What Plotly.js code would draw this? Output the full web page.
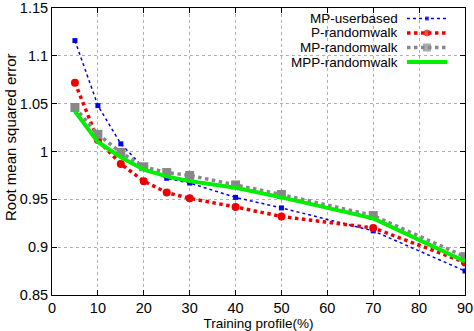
<!DOCTYPE html>
<html><head><meta charset="utf-8">
<script src="https://cdn.plot.ly/plotly-3.0.1.min.js"></script>
<style>html,body{margin:0;padding:0;background:#fff}#chart{width:474px;height:331px}</style>
</head><body><div id="chart"></div>
<script>
const xVals = [5, 10, 15, 20, 25, 30, 40, 50, 70, 90];
const names = ["MP-userbased", "P-randomwalk", "MP-randomwalk", "MPP-randomwalk"];
const mpUserbased   = [1.116, 1.048, 1.008, 0.983, 0.972, 0.967, 0.952, 0.941, 0.917, 0.875];
const pRandomwalk   = [1.072, 1.012, 0.987, 0.969, 0.957, 0.951, 0.942, 0.932, 0.920, 0.884];
const mpRandomwalk  = [1.046, 1.018, 0.999, 0.984, 0.978, 0.975, 0.965, 0.955, 0.933, 0.890];
const mppRandomwalk = [1.042, 1.010, 0.994, 0.981, 0.974, 0.969, 0.962, 0.952, 0.930, 0.885];
const xTicks = [0, 10, 20, 30, 40, 50, 60, 70, 80, 90];
const yTicks = [0.85, 0.9, 0.95, 1, 1.05, 1.1, 1.15];
const yTickText = ["0.85", "0.9", "0.95", "1", "1.05", "1.1", "1.15"];

const styles = [
  {color: "#0000ee", width: 1.5, dash: "dot", symbol: "square", size: 5},
  {color: "#ee0000", width: 3.5, dash: "dot", symbol: "circle", size: 8},
  {color: "#888888", width: 3.5, dash: "dot", symbol: "square", size: 9},
  {color: "#00ee00", width: 4, dash: "solid", symbol: "circle", size: 1}
];
const series = [mpUserbased, pRandomwalk, mpRandomwalk, mppRandomwalk];

const traces = series.map((ys, i) => ({
  x: xVals, y: ys, name: names[i], type: "scatter", mode: "lines+markers",
  line: {color: styles[i].color, width: styles[i].width, dash: styles[i].dash},
  marker: {color: styles[i].color, symbol: styles[i].symbol, size: styles[i].size},
  showlegend: false
}));

const FAM = "Liberation Sans, Arial, sans-serif";
const L = 52, R = 465, T = 8, B = 295;
const px = x => (x - L) / (R - L);
const py = y => (B - y) / (B - T);
const rows = [18.5, 33, 47.5, 62];
const annotations = [], shapes = [];
names.forEach((n, i) => {
  annotations.push({xref: "paper", yref: "paper", x: px(400), y: py(rows[i]), xanchor: "right", yanchor: "middle",
    text: n, showarrow: false, font: {family: FAM, size: 13.5, color: "#000"}});
  shapes.push({type: "line", xref: "paper", yref: "paper", x0: px(407), x1: px(447), y0: py(rows[i]), y1: py(rows[i]),
    line: {color: styles[i].color, width: styles[i].width, dash: styles[i].dash}});
});
annotations.push({xref: "paper", yref: "paper", x: px(10), y: py(137), xanchor: "center", yanchor: "middle",
  text: "Root mean squared error", textangle: -90, showarrow: false, font: {family: FAM, size: 15, color: "#000"}});

const legendMarkers = {
  x: [px(427), px(427), px(427)], y: [py(rows[0]), py(rows[1]), py(rows[2])],
  xaxis: "x2", yaxis: "y2", type: "scatter", mode: "markers", showlegend: false, hoverinfo: "skip",
  marker: {color: [styles[0].color, styles[1].color, styles[2].color], symbol: ["square", "circle", "square"], size: [5, 8, 9]}
};

const fnt = {family: FAM, size: 14.5, color: "#000"};
const layout = {
  width: 474, height: 331,
  margin: {l: 52, r: 9, t: 8, b: 36, pad: 0},
  paper_bgcolor: "#fff", plot_bgcolor: "#fff",
  font: fnt,
  showlegend: false,
  xaxis: {range: [0, 90], tickvals: xTicks, ticks: "inside", ticklen: 5, tickcolor: "#000",
    showline: true, linecolor: "#000", linewidth: 1, mirror: "ticks",
    showgrid: true, gridcolor: "#b0b0b0", griddash: "dot", gridwidth: 1, zeroline: false,
    tickfont: fnt, title: {text: "Training profile(%)", font: {family: FAM, size: 13.5}, standoff: 1}},
  yaxis: {range: [0.8499, 1.1501], tickvals: yTicks, ticktext: yTickText, ticks: "inside", ticklen: 5, tickcolor: "#000",
    showline: true, linecolor: "#000", linewidth: 1, mirror: "ticks",
    showgrid: true, gridcolor: "#b0b0b0", griddash: "dot", gridwidth: 1, zeroline: false,
    tickfont: fnt},
  xaxis2: {overlaying: "x", range: [0, 1], visible: false},
  yaxis2: {overlaying: "y", range: [0, 1], visible: false},
  annotations: annotations,
  shapes: shapes
};
Plotly.newPlot("chart", traces.concat([legendMarkers]), layout, {staticPlot: true});
</script></body></html>
